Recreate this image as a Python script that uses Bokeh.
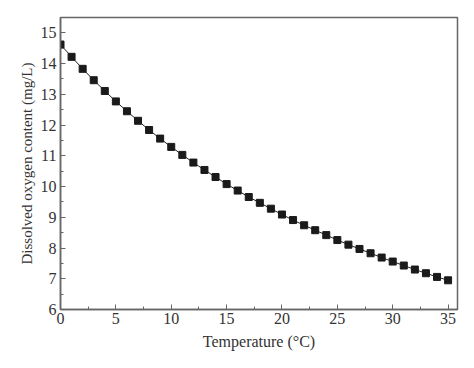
from bokeh.plotting import figure
from bokeh.models import SingleIntervalTicker, Range1d
from bokeh.embed import file_html
from bokeh.resources import INLINE

temperature = list(range(0, 36))
oxygen = [14.62, 14.22, 13.83, 13.46, 13.11, 12.77, 12.45, 12.14, 11.84, 11.56,
          11.29, 11.03, 10.78, 10.54, 10.31, 10.08, 9.87, 9.66, 9.47, 9.28,
          9.09, 8.91, 8.74, 8.58, 8.42, 8.26, 8.11, 7.97, 7.83, 7.69,
          7.56, 7.43, 7.30, 7.18, 7.06, 6.95]

p = figure(width=466, height=360, output_backend="svg", toolbar_location=None,
           x_range=Range1d(0, 35.85), y_range=Range1d(6, 15.5),
           min_border_left=60, min_border_right=9, min_border_top=17, min_border_bottom=51)

p.line(temperature, oxygen, line_color="#222222", line_width=1)
p.scatter(temperature, oxygen, marker="square", size=7, fill_color="#1a1a1a", line_color="#1a1a1a")

p.xgrid.visible = False
p.ygrid.visible = False
p.outline_line_color = "#666666"
p.outline_line_width = 1.5
p.background_fill_color = "white"
p.border_fill_color = "white"

p.xaxis.ticker = SingleIntervalTicker(interval=5, num_minor_ticks=2)
p.yaxis.ticker = SingleIntervalTicker(interval=1, num_minor_ticks=2)

for ax in (p.xaxis[0], p.yaxis[0]):
    ax.axis_line_color = "#666666"
    ax.axis_line_width = 1.5
    ax.major_tick_in = 5
    ax.major_tick_out = 0
    ax.minor_tick_in = 3
    ax.minor_tick_out = 0
    ax.major_tick_line_color = "#666666"
    ax.minor_tick_line_color = "#666666"
    ax.major_label_text_font = "Liberation Serif"
    ax.major_label_text_font_size = "16px"
    ax.major_label_text_color = "#333333"
    ax.axis_label_text_font = "Liberation Serif"
    ax.axis_label_text_font_size = "15px"
    ax.axis_label_text_font_style = "normal"
    ax.axis_label_text_color = "#333333"

p.xaxis.axis_label_text_font_size = "16px"
p.xaxis.axis_label = "Temperature (°C)"
p.yaxis.axis_label = "Dissolved oxygen content (mg/L)"
p.xaxis.major_label_standoff = 3
p.yaxis.major_label_standoff = 4
p.xaxis.axis_label_standoff = 6
p.yaxis.axis_label_standoff = 3

open("out.html", "w").write(file_html(p, INLINE))
